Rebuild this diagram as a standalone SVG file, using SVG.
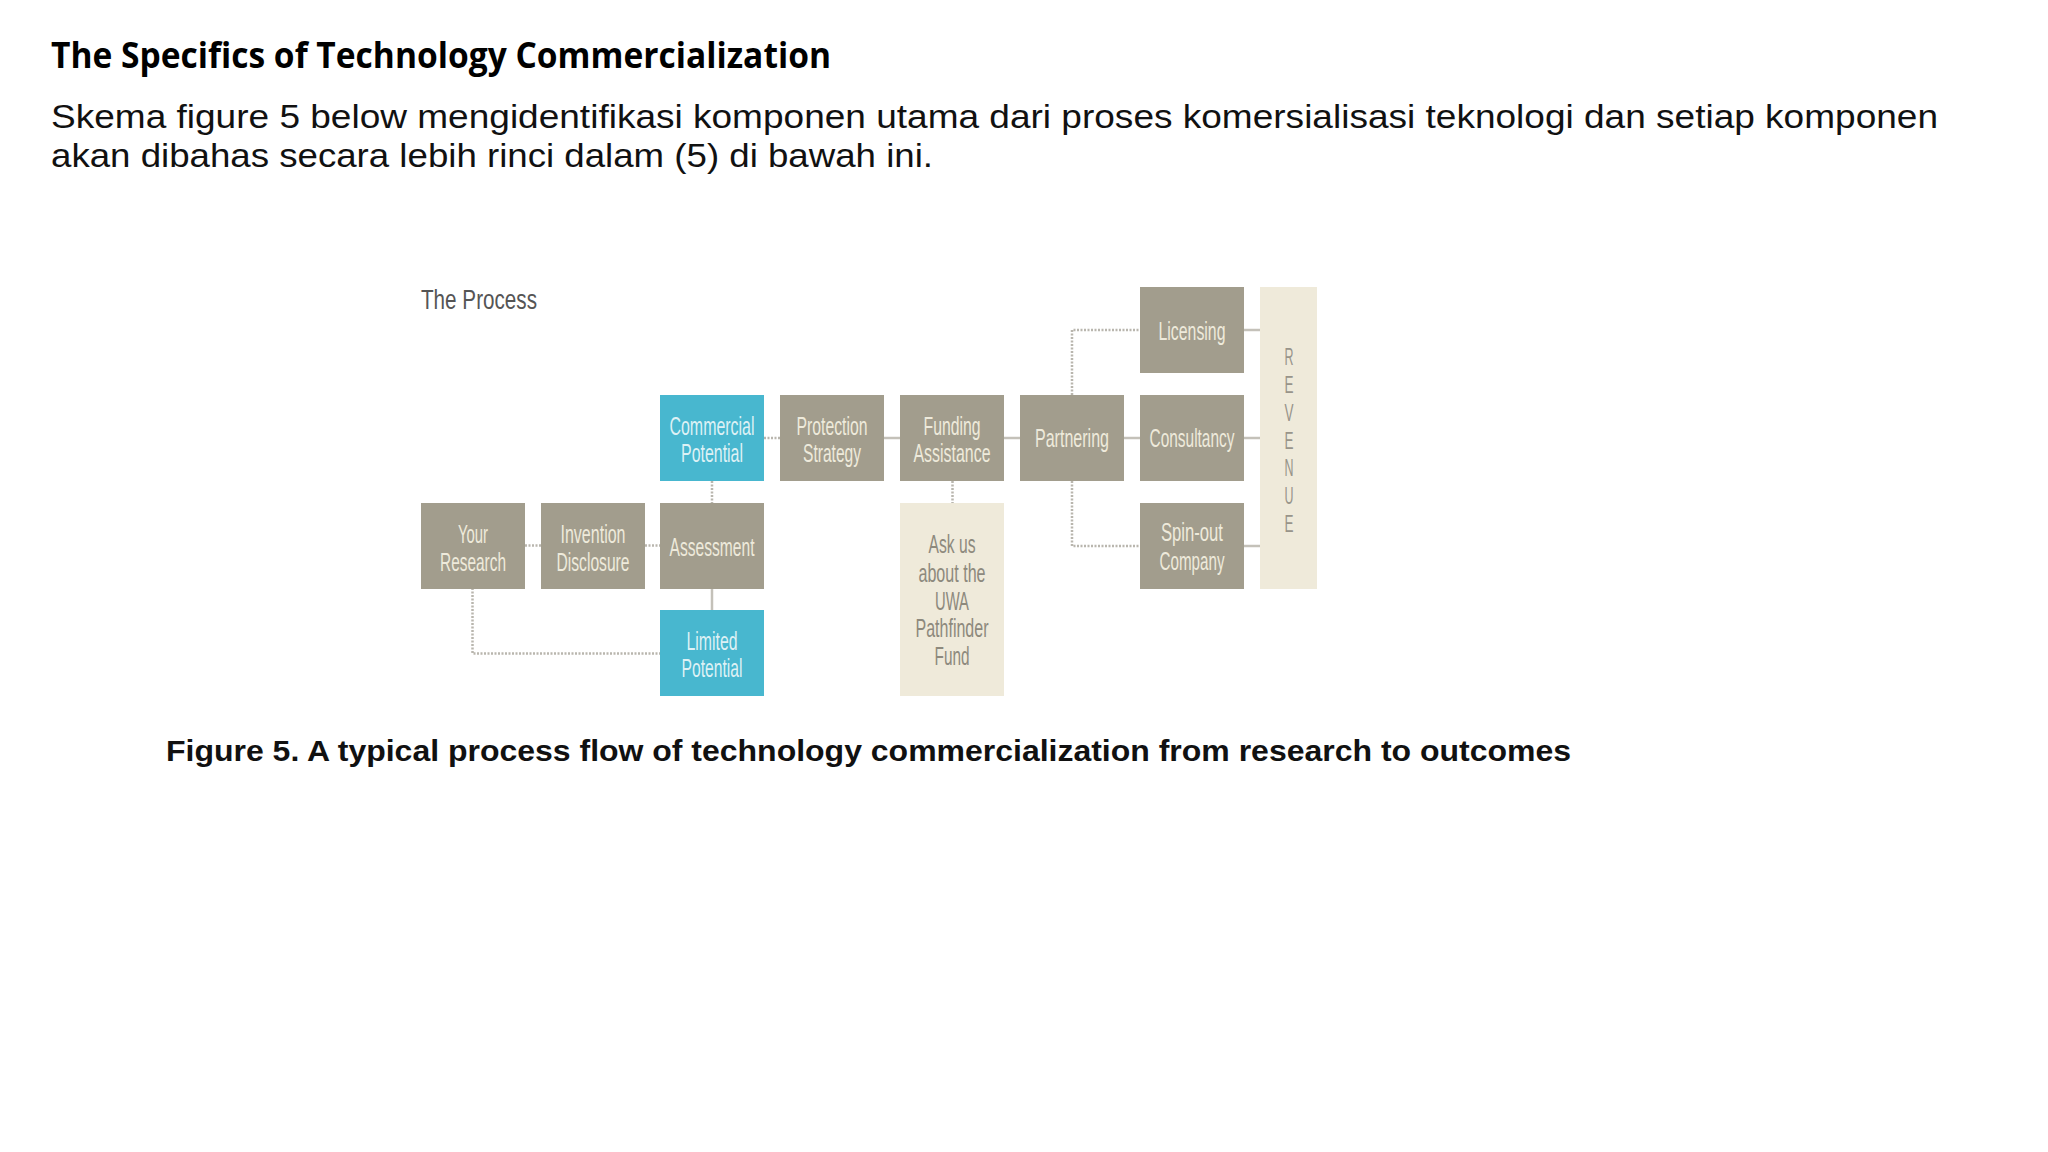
<svg xmlns="http://www.w3.org/2000/svg" width="2048" height="1152" viewBox="0 0 2048 1152">
<style>
.bg{fill:#ffffff}
.title{font-family:"Open Sans","Liberation Sans",sans-serif;font-weight:bold;font-size:36px;fill:#000}
.body{font-family:"Liberation Sans",Arial,sans-serif;font-size:34px;fill:#111}
.caption{font-family:"Liberation Sans",Arial,sans-serif;font-weight:bold;font-size:30px;fill:#111}
.proc{font-family:"Liberation Sans",Arial,sans-serif;font-size:27.5px;fill:#555}
.box{fill:#A29D8D}
.cyan{fill:#48B7CF}
.cream{fill:#EFEADA}
.t{font-family:"Liberation Sans",Arial,sans-serif;font-size:25px;text-anchor:middle}
.tb{fill:#EEEADB}
.tc{fill:#DDF1F5}
.tm{fill:#8D897D}
.rev{font-family:"Liberation Sans",Arial,sans-serif;font-size:23px;text-anchor:middle;fill:#98948A}
.dot{fill:none;stroke:#B9B6AE;stroke-width:2.5;stroke-dasharray:2 1.5}
.sol{fill:none;stroke:#C4C1B9;stroke-width:2.5}
</style>
<rect class="bg" x="0" y="0" width="2048" height="1152"/>
<text class="title" x="51" y="68" textLength="780" lengthAdjust="spacingAndGlyphs">The Specifics of Technology Commercialization</text>
<text class="body" x="51" y="128" textLength="1887" lengthAdjust="spacingAndGlyphs">Skema figure 5 below mengidentifikasi komponen utama dari proses komersialisasi teknologi dan setiap komponen</text>
<text class="body" x="51" y="166.5" textLength="882" lengthAdjust="spacingAndGlyphs">akan dibahas secara lebih rinci dalam (5) di bawah ini.</text>
<text class="proc" x="421" y="309" textLength="116" lengthAdjust="spacingAndGlyphs">The Process</text>

<g id="connectors">
<line class="dot" x1="525" y1="545.5" x2="541" y2="545.5"/>
<line class="dot" x1="645" y1="545.5" x2="660" y2="545.5"/>
<line class="dot" x1="712" y1="481" x2="712" y2="503"/>
<line class="sol" x1="712" y1="588" x2="712" y2="610"/>
<path class="dot" d="M472.5,588 V653.5 H660"/>
<line class="dot" x1="764" y1="438" x2="780" y2="438"/>
<line class="sol" x1="884" y1="438" x2="900" y2="438"/>
<line class="sol" x1="1004" y1="438" x2="1020" y2="438"/>
<line class="sol" x1="1124" y1="438" x2="1140" y2="438"/>
<line class="dot" x1="952.5" y1="481" x2="952.5" y2="503"/>
<path class="dot" d="M1072,395 V330 H1140"/>
<path class="dot" d="M1072,481 V546 H1140"/>
<line class="sol" x1="1244" y1="330" x2="1260" y2="330"/>
<line class="sol" x1="1244" y1="438" x2="1260" y2="438"/>
<line class="sol" x1="1244" y1="546" x2="1260" y2="546"/>
</g>

<g id="your-research">
<rect class="box" x="421" y="503" width="104" height="86"/>
<text class="t tb" x="473" y="543" textLength="30" lengthAdjust="spacingAndGlyphs">Your</text>
<text class="t tb" x="473" y="570.5" textLength="66" lengthAdjust="spacingAndGlyphs">Research</text>
</g>
<g id="invention-disclosure">
<rect class="box" x="541" y="503" width="104" height="86"/>
<text class="t tb" x="593" y="543" textLength="65" lengthAdjust="spacingAndGlyphs">Invention</text>
<text class="t tb" x="593" y="570.5" textLength="73" lengthAdjust="spacingAndGlyphs">Disclosure</text>
</g>
<g id="assessment">
<rect class="box" x="660" y="503" width="104" height="86"/>
<text class="t tb" x="712" y="556" textLength="85" lengthAdjust="spacingAndGlyphs">Assessment</text>
</g>
<g id="commercial-potential">
<rect class="cyan" x="660" y="395" width="104" height="86"/>
<text class="t tc" x="712" y="434.5" textLength="85" lengthAdjust="spacingAndGlyphs">Commercial</text>
<text class="t tc" x="712" y="462" textLength="62" lengthAdjust="spacingAndGlyphs">Potential</text>
</g>
<g id="limited-potential">
<rect class="cyan" x="660" y="610" width="104" height="86"/>
<text class="t tc" x="712" y="650" textLength="51" lengthAdjust="spacingAndGlyphs">Limited</text>
<text class="t tc" x="712" y="677" textLength="61" lengthAdjust="spacingAndGlyphs">Potential</text>
</g>
<g id="protection-strategy">
<rect class="box" x="780" y="395" width="104" height="86"/>
<text class="t tb" x="832" y="434.5" textLength="71" lengthAdjust="spacingAndGlyphs">Protection</text>
<text class="t tb" x="832" y="462" textLength="58" lengthAdjust="spacingAndGlyphs">Strategy</text>
</g>
<g id="funding-assistance">
<rect class="box" x="900" y="395" width="104" height="86"/>
<text class="t tb" x="952" y="434.5" textLength="57" lengthAdjust="spacingAndGlyphs">Funding</text>
<text class="t tb" x="952" y="462" textLength="77" lengthAdjust="spacingAndGlyphs">Assistance</text>
</g>
<g id="ask-us">
<rect class="cream" x="900" y="503" width="104" height="193"/>
<text class="t tm" x="952" y="553" textLength="47" lengthAdjust="spacingAndGlyphs">Ask us</text>
<text class="t tm" x="952" y="581.5" textLength="67" lengthAdjust="spacingAndGlyphs">about the</text>
<text class="t tm" x="952" y="610" textLength="34" lengthAdjust="spacingAndGlyphs">UWA</text>
<text class="t tm" x="952" y="637" textLength="73" lengthAdjust="spacingAndGlyphs">Pathfinder</text>
<text class="t tm" x="952" y="665" textLength="35" lengthAdjust="spacingAndGlyphs">Fund</text>
</g>
<g id="partnering">
<rect class="box" x="1020" y="395" width="104" height="86"/>
<text class="t tb" x="1072" y="447" textLength="74" lengthAdjust="spacingAndGlyphs">Partnering</text>
</g>
<g id="licensing">
<rect class="box" x="1140" y="287" width="104" height="86"/>
<text class="t tb" x="1192" y="339.5" textLength="67" lengthAdjust="spacingAndGlyphs">Licensing</text>
</g>
<g id="consultancy">
<rect class="box" x="1140" y="395" width="104" height="86"/>
<text class="t tb" x="1192" y="447" textLength="85" lengthAdjust="spacingAndGlyphs">Consultancy</text>
</g>
<g id="spin-out-company">
<rect class="box" x="1140" y="503" width="104" height="86"/>
<text class="t tb" x="1192" y="541" textLength="62" lengthAdjust="spacingAndGlyphs">Spin-out</text>
<text class="t tb" x="1192" y="570" textLength="65" lengthAdjust="spacingAndGlyphs">Company</text>
</g>
<g id="revenue">
<rect class="cream" x="1260" y="287" width="57" height="302"/>
<text class="rev" x="1289" y="365" textLength="9" lengthAdjust="spacingAndGlyphs">R</text>
<text class="rev" x="1289" y="393" textLength="9" lengthAdjust="spacingAndGlyphs">E</text>
<text class="rev" x="1289" y="421" textLength="9" lengthAdjust="spacingAndGlyphs">V</text>
<text class="rev" x="1289" y="448.5" textLength="9" lengthAdjust="spacingAndGlyphs">E</text>
<text class="rev" x="1289" y="476" textLength="9" lengthAdjust="spacingAndGlyphs">N</text>
<text class="rev" x="1289" y="503.5" textLength="9" lengthAdjust="spacingAndGlyphs">U</text>
<text class="rev" x="1289" y="531.5" textLength="9" lengthAdjust="spacingAndGlyphs">E</text>
</g>

<text class="caption" x="166" y="761" textLength="1405" lengthAdjust="spacingAndGlyphs">Figure 5. A typical process flow of technology commercialization from research to outcomes</text>
</svg>
